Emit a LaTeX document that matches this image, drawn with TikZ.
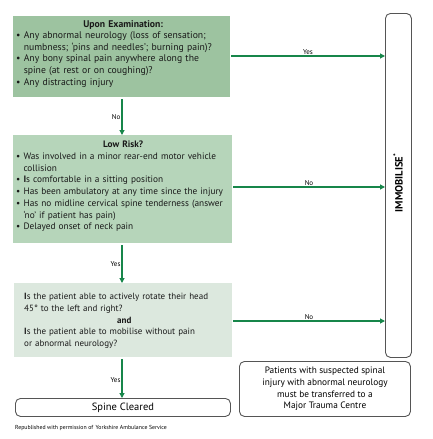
\documentclass[tikz,border=0pt]{standalone}
\usepackage{fontspec}
\setmainfont{PT Sans}
\usetikzlibrary{arrows.meta}
\definecolor{gA}{HTML}{9DC3A0}
\definecolor{gB}{HTML}{B6D5BA}
\definecolor{gC}{HTML}{DCE8DE}
\definecolor{arr}{HTML}{17864A}
\definecolor{edge}{HTML}{555555}
\begin{document}
\begin{tikzpicture}[x=1pt,y=1pt,
  box/.style={draw=none,rectangle,anchor=north west,inner sep=0pt},
  txt/.style={anchor=north west,inner sep=0pt,text=black!90},
  lbl/.style={font=\fontsize{7}{8}\selectfont,inner sep=1pt},
  conn/.style={draw=arr,line width=1.1pt,-{Triangle[length=5pt,width=5pt]}},
  rbox/.style={draw=edge,line width=0.9pt,rounded corners=5pt,anchor=north west,inner sep=0pt}]
\useasboundingbox (0,0) rectangle (433,-439);
% boxes
\node[box,fill=gA,minimum width=217pt,minimum height=81pt] (b1) at (13,-16) {};
\node[box,fill=gB,minimum width=219pt,minimum height=108pt] (b2) at (13,-135) {};
\node[box,fill=gC,minimum width=218pt,minimum height=74pt] (b3) at (14,-283) {};
\node[rbox,minimum width=26pt,minimum height=344pt] (imm) at (385,-13) {};
\node[rbox,minimum width=215pt,minimum height=18pt] (sc) at (15,-398) {};
\node[rbox,minimum width=171pt,minimum height=55pt] (pt) at (239,-361) {};
% texts
\node[txt,text width=214pt,font=\fontsize{9.7}{11.6}\selectfont] (t1) at (16,-20) {\noindent{\centering\bfseries Upon Examination:\par}
\noindent • Any abnormal neurology (loss of sensation;\\
\phantom{• }numbness; ‘pins and needles’; burning pain)?\\
• Any bony spinal pain anywhere along the\\
\phantom{• }spine (at rest or on coughing)?\\
• Any distracting injury};
\node[txt,text width=214pt,font=\fontsize{9.3}{11.7}\selectfont] (t2) at (16,-141) {\noindent{\centering\bfseries Low Risk?\par}
\noindent • Was involved in a minor rear-end motor vehicle\\
\phantom{• }collision\\
• \textbf{I}s comfortable in a sitting position\\
• Has been ambulatory at any time since the injury\\
• Has no midline cervical spine tenderness (answer\\
\phantom{• }‘no’ if patient has pain)\\
• Delayed onset of neck pain};
\node[txt,text width=214pt,font=\fontsize{9}{11.8}\selectfont] (t3) at (24,-293) {\noindent\textbf{I}s the patient able to actively rotate their head\\
45° to the left and right?\\
\hspace*{93pt}\textbf{and}\\
\textbf{I}s the patient able to mobilise without pain\\
or abnormal neurology?};
\node[font=\bfseries\fontsize{10.5}{12}\selectfont,rotate=90] (immt) at (398,-183) {IMMOBILISE\textsuperscript{*}};
\node[font=\fontsize{10.5}{12}\selectfont] (sct) at (sc.center) {Spine Cleared};
\node[align=center,font=\fontsize{9.3}{11.7}\selectfont] (ptt) at (pt.center) {Patients with suspected spinal\\injury with abnormal neurology\\must be transferred to a\\Major Trauma Centre};
\node[anchor=west,inner sep=0pt,font=\fontsize{5.8}{6}\selectfont] (foot) at (15,-428) {Republished with permission of \,Yorkshire Ambulance Service};
% connectors
\coordinate (y1) at (231,-56);
\draw[conn] (y1) -- (y1 -| imm.west) node[lbl,midway,above] {Yes};
\coordinate (n2) at (233,-187);
\draw[conn] (n2) -- (n2 -| imm.west) node[lbl,midway,above] {No};
\coordinate (n3) at (233,-321);
\draw[conn] (n3) -- (n3 -| imm.west) node[lbl,midway,above] {No};
\coordinate (a1) at (122,-99);
\draw[conn] (a1) -- (a1 |- b2.north) node[lbl,midway,left] {No};
\coordinate (a2) at (122,-245);
\draw[conn] (a2) -- (a2 |- b3.north) node[lbl,midway,left] {Yes};
\coordinate (a3) at (122,-359);
\draw[conn] (a3) -- (a3 |- sc.north) node[lbl,pos=0.55,left] {Yes};
\end{tikzpicture}
\end{document}
